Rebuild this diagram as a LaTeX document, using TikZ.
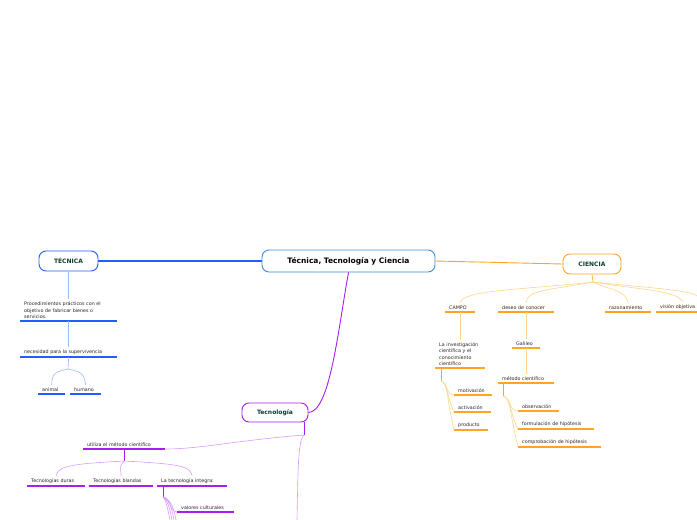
\documentclass[tikz,border=0pt]{standalone}
\usepackage{fontspec}
\setmainfont{DejaVu Sans}
\definecolor{bl}{HTML}{1F5FFF}\definecolor{bll}{HTML}{9DB8FF}
\definecolor{mb}{HTML}{3A8FD8}
\definecolor{og}{HTML}{FFA522}\definecolor{ogl}{HTML}{FFD58A}
\definecolor{pu}{HTML}{A61EF0}\definecolor{pul}{HTML}{D99BFF}
\definecolor{dg}{HTML}{0B3D2E}
\begin{document}
\begin{tikzpicture}[x=1pt,y=-1pt,
 topic/.style={draw=#1,line width=0.9pt,rounded corners=7pt,fill=white,font=\fontsize{6}{7}\selectfont\bfseries,text=dg,inner sep=0pt},
 lf/.style={anchor=south west,inner xsep=4pt,inner ysep=2.5pt,font=\fontsize{4.8}{6.2}\selectfont,text=black!85,align=left,
   append after command={(\tikzlastnode.south west) edge[draw=#1,line width=1.1pt] (\tikzlastnode.south east)}},
 cn/.style={draw=#1,line width=0.6pt}]
\useasboundingbox (0,0) rectangle (697,520);
% main
\node[topic=mb,minimum width=173,minimum height=22,font=\fontsize{7.5}{9}\selectfont\bfseries,text=black] (m) at (348.5,261) {Técnica, Tecnología y Ciencia};
\node[topic=bl,minimum width=59,minimum height=20] (tec) at (68.5,261) {TÉCNICA};
\node[topic=og,minimum width=58,minimum height=20] (cie) at (592,264) {CIENCIA};
\node[topic=pu,minimum width=66,minimum height=19] (tgl) at (275,412.5) {Tecnología};
\draw[bl,line width=1.2pt] (m.west) -- (tec.east);
\draw[og,line width=0.9pt] (m.east) -- (cie.west);
\draw[pu,line width=0.9pt] (m.south) .. controls (338,330) and (330,412) .. (tgl.east);
% TECNICA
\node[lf=bl,text width=89] (proc) at (20,321) {Procedimientos prácticos con el\\objetivo de fabricar bienes o\\servicios.};
\node[lf=bl,text width=89] (nec) at (20,357) {necesidad para la supervivencia};
\node[lf=bl,text width=19] (ani) at (38,394) {animal};
\node[lf=bl,text width=23] (hum) at (70,394) {humano};
\draw[cn=bll] (tec.south) -- (tec.south |- proc.north);
\draw[cn=bll] (proc.south) -- (proc.south |- nec.north);
\draw[cn=bll] (nec.south) -- (68,369) .. controls (56,372) and (52,372) .. (ani.north);
\draw[cn=bll] (68,369) .. controls (80,372) and (84,372) .. (hum.north);
% Tecnologia
\node[lf=pu,text width=74] (uti) at (83,449) {utiliza el método científico};
\node[lf=pu,text width=50] (dur) at (27,486) {Tecnologías duras};
\node[lf=pu,text width=56] (bla) at (89,486) {Tecnologías blandas};
\node[lf=pu,text width=62] (int) at (157,486) {La tecnología integra:};
\node[lf=pu,text width=49] (val) at (177,512) {valores culturales};
\coordinate (t1) at (304,435);
\coordinate (off1) at (297,520);
\draw[cn=pu,line width=0.8pt] (tgl.south -| t1) -- (t1);
\draw[cn=pul] (t1) .. controls (240,440) and (200,449) .. (uti.south east);
\draw[cn=pul] (t1) .. controls (298,440) and (298,470) .. (off1);
\draw[cn=pu] (124,449) -- (124,461);
\draw[cn=pul] (124,461) .. controls (70,464) and (58,466) .. (dur.north);
\draw[cn=pul] (124,461) .. controls (120,466) .. (bla.north);
\draw[cn=pul] (124,461) .. controls (180,464) and (190,466) .. (int.north);
\draw[cn=pu,line width=0.8pt] (163,486) -- (163,497);
\draw[cn=pul] (163,497) .. controls (170,497) and (170,512) .. (val.south west);
\foreach \d in {0,2,4,6}{\draw[cn=pul] (163,497) .. controls (166+\d,500) and (168+\d,510) .. (170+\d,520);}
% CIENCIA
\node[lf=og,text width=22] (cam) at (445,312) {CAMPO};
\node[lf=og,text width=48] (des) at (498,312) {deseo de conocer};
\node[lf=og,text width=38] (raz) at (605,312) {razonamiento};
\node[lf=og,text width=45] (vis) at (656,312) {visión objetiva};
\coordinate (c1) at (593,282);
\coordinate (off2) at (697,296);
\draw[cn=og] (cie.south) -- (c1);
\draw[cn=ogl] (c1) .. controls (520,290) and (462,290) .. (cam.north);
\draw[cn=ogl] (c1) .. controls (550,290) and (526,290) .. (des.north);
\draw[cn=ogl] (c1) .. controls (610,290) and (626,290) .. (raz.north);
\draw[cn=ogl] (c1) .. controls (640,290) and (676,290) .. (vis.north);
\draw[cn=ogl] (c1) .. controls (650,288) and (690,290) .. (off2);
\node[lf=og,text width=42] (inv) at (435,368) {La investigación\\científica y el\\conocimiento\\científico};
\node[lf=og,text width=30] (mot) at (454,395) {motivación};
\node[lf=og,text width=29] (act) at (454,412) {activación};
\node[lf=og,text width=26] (pro) at (454,430) {producto};
\node[lf=og,text width=20] (gal) at (512,348) {Galileo};
\node[lf=og,text width=48] (met) at (498,383) {método científico};
\node[lf=og,text width=33] (obs) at (518,411) {observación};
\node[lf=og,text width=68] (for) at (518,429) {formulación de hipótesis};
\node[lf=og,text width=75] (com) at (518,447) {comprobación de hipótesis};
\draw[cn=ogl] (cam.south) -- (cam.south |- inv.north);
\draw[cn=og] (441,368) -- (441,381);
\foreach \n in {mot,act,pro}{\draw[cn=ogl] (441,381) .. controls (448,383) and (446,395) .. (\n.south west);}
\draw[cn=ogl] (des.south) -- (des.south |- gal.north);
\draw[cn=ogl] (gal.south) -- (gal.south |- met.north);
\draw[cn=og] (503,383) -- (503,396);
\foreach \n in {obs,for,com}{\draw[cn=ogl] (503,396) .. controls (511,398) and (509,411) .. (\n.south west);}
\end{tikzpicture}
\end{document}
